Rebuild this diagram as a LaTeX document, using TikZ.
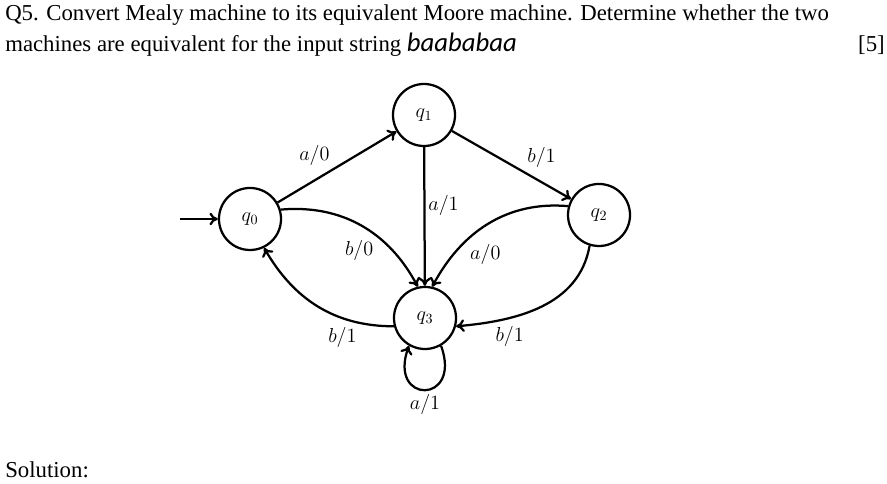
\documentclass[tikz,border=0pt]{standalone}
\usepackage{fontspec}
\usepackage{amsmath}
\setmainfont{Liberation Serif}
\newfontfamily\stringfont{Carlito}
\usetikzlibrary{arrows.meta}

\begin{document}
\begin{tikzpicture}[x=0.025cm,y=0.025cm,
        state/.style={draw,circle,line width=1.6pt,minimum size=1.55cm,inner sep=0pt,font=\fontsize{14}{16}\selectfont},
        trans/.style={line width=1.6pt,-{To[length=6pt,width=9pt]}},
        lab/.style={font=\fontsize{13.5}{16}\selectfont,inner sep=2pt},
        question/.style={anchor=base west,inner sep=0pt,font=\fontsize{16.2}{18}\selectfont}]
    \useasboundingbox (0,0) rectangle (887,484);

    \node[question] (line1) at (5,463) {Q5. Convert Mealy machine to its equivalent Moore machine. Determine whether the two};
    \node[question] (line2) at (5,432) {machines are equivalent for the input string {\stringfont\itshape\fontsize{19}{20}\selectfont baababaa}};
    \node[question,anchor=base east] (marks) at (885,432) {[5]};
    \node[question] (sol) at (5,6) {Solution:};

    \node[state] (q0) at (250,265) {$q_0$};
    \node[state] (q1) at (424,369) {$q_1$};
    \node[state] (q2) at (599,269) {$q_2$};
    \node[state] (q3) at (425,166) {$q_3$};
    \coordinate (start) at (180,265);

    \draw[trans] (start) -- (q0);
    \draw[trans] (q0) -- node[lab,above left,pos=0.47] (l01) {$a/0$} (q1);
    \draw[trans] (q1) -- node[lab,above right,pos=0.6] (l12) {$b/1$} (q2);
    \draw[trans] (q1) -- node[lab,right,pos=0.42] (l13) {$a/1$} (q3);
    \draw[trans] (q0.17) to[out=5,in=118] node[lab,below left,pos=0.62] (l03) {$b/0$} (q3.103);
    \draw[trans] (q2.164) to[out=175,in=62] node[lab,below right,pos=0.67] (l23) {$a/0$} (q3.77);
    \draw[trans] (q3.195) to[out=180,in=-60] node[lab,below left,pos=0.2] (l30) {$b/1$} (q0.-64);
    \draw[trans] (q2.-107) to[out=-100,in=5] node[lab,below=3pt,pos=0.7] (l23b) {$b/1$} (q3.-15);
    \draw[trans] (q3.-60) to[out=-70,in=-110,looseness=5] node[lab,below] (l33) {$a/1$} (q3.-120);
\end{tikzpicture}
\end{document}
